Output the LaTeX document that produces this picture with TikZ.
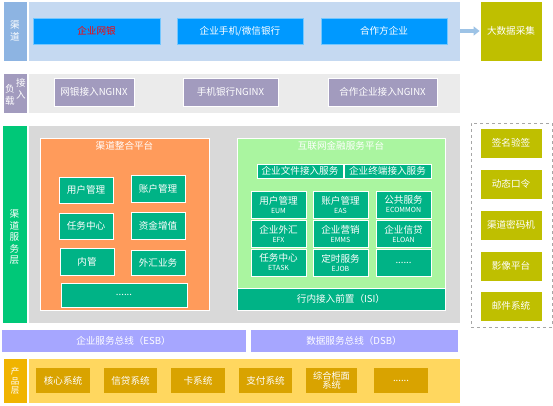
\documentclass[tikz,border=0pt]{standalone}
\usepackage{fontspec}
\setmainfont{Noto Sans CJK SC}
\usetikzlibrary{arrows.meta}
\definecolor{qdlabel}{HTML}{8DB4E2}
\definecolor{qdband}{HTML}{C5D9F1}
\definecolor{qdblue}{HTML}{0099FF}
\definecolor{olive}{HTML}{BFBF00}
\definecolor{lilac}{HTML}{A29BBE}
\definecolor{lbgray}{HTML}{EBEBEB}
\definecolor{fwgreen}{HTML}{00C878}
\definecolor{fwgray}{HTML}{D9D9D9}
\definecolor{qorange}{HTML}{FF9B5B}
\definecolor{teal}{HTML}{00B386}
\definecolor{lgreen}{HTML}{AAF5A0}
\definecolor{busblue}{HTML}{A6A6FF}
\definecolor{cplabel}{HTML}{F0B400}
\definecolor{cpband}{HTML}{FFD75F}
\definecolor{cpbox}{HTML}{D9A300}
\definecolor{arrowblue}{HTML}{9DC3E6}
\tikzset{
  blk/.style={inner sep=0pt, text=white, align=center,
    font=\fontsize{9.6}{10.5}\selectfont},
  band/.style={blk, draw=white, line width=0.8pt},
  cell/.style={blk, draw=white, line width=0.8pt, fill=teal},
  lbl/.style={blk, font=\fontsize{9.6}{11.5}\selectfont}
}
\newcommand{\sm}[1]{\\[-1.5pt]{\fontsize{7}{7.5}\selectfont #1}}
\begin{document}
\begin{tikzpicture}[x=1pt, y=-1pt]
  \useasboundingbox (0,0) rectangle (553,406);
  % channel layer
  \node [band, fill=qdlabel, minimum width=24pt, minimum height=60pt] (qdl) at (15,31) {};
  \node [lbl] (qdt) at (15,31) {渠\\道};
  \node [band, fill=qdband, minimum width=432pt, minimum height=60pt] (qdb) at (244,31) {};
  \node [blk, fill=qdblue, draw=qdblue!55, minimum width=127pt, minimum height=26pt, text=red] (wy) at (96.5,31) {企业网银};
  \node [blk, fill=qdblue, draw=qdblue!55, minimum width=126pt, minimum height=26pt] (sj) at (240,31) {企业手机/微信银行};
  \node [blk, fill=qdblue, draw=qdblue!55, minimum width=126pt, minimum height=26pt] (hz) at (384,31) {合作方企业};
  \node [band, fill=olive, minimum width=62pt, minimum height=60pt] (dsj) at (511,31) {大数据采集};
  \draw [-{Triangle[length=6pt, width=9pt]}, line width=3.5pt, arrowblue] (qdb.east) -- (dsj.west);

  % load access layer
  \node [band, fill=lilac, minimum width=24pt, minimum height=40pt] (fzl) at (15,93) {};
  \node [lbl] (fzt1) at (10,95) {负\\载};
  \node [lbl] (fzt2) at (21,89) {接\\入};
  \node [band, fill=lbgray, minimum width=432pt, minimum height=40pt] (fzb) at (244,93) {};
  \node [band, fill=lilac, minimum width=80pt, minimum height=28pt] (ng1) at (94,92) {网银接入NGINX};
  \node [band, fill=lilac, minimum width=95pt, minimum height=28pt] (ng2) at (230.5,92) {手机银行NGINX};
  \node [band, fill=lilac, minimum width=109pt, minimum height=28pt] (ng3) at (382.5,92) {合作企业接入NGINX};

  % channel service layer
  \node [band, fill=fwgreen, minimum width=25pt, minimum height=198pt] (fwl) at (14.5,224) {};
  \node [lbl] (fwt) at (14.5,237) {渠\\道\\服\\务\\层};
  \node [band, fill=fwgray, minimum width=432pt, minimum height=198pt] (fwb) at (244,224) {};
  \node [band, fill=qorange, minimum width=169pt, minimum height=172pt] (zh) at (124.5,224) {};
  \node [blk] (zht) at (124.5,146) {渠道整合平台};
  \node [cell, minimum width=54pt, minimum height=26pt] (o11) at (86,190) {用户管理};
  \node [cell, minimum width=54pt, minimum height=27pt] (o12) at (158,188.5) {账户管理};
  \node [cell, minimum width=54pt, minimum height=26pt] (o21) at (86,226) {任务中心};
  \node [cell, minimum width=54pt, minimum height=27pt] (o22) at (158,225.5) {资金增值};
  \node [cell, minimum width=54pt, minimum height=27pt] (o31) at (87,261.5) {内管};
  \node [cell, minimum width=54pt, minimum height=25pt] (o32) at (158,262.5) {外汇业务};
  \node [cell, minimum width=126pt, minimum height=24pt] (o4) at (124,295) {......};

  \node [band, fill=lgreen, minimum width=208pt, minimum height=172pt] (hl) at (341,224) {};
  \node [blk] (hlt) at (341,146) {互联网金融服务平台};
  \node [cell, minimum width=86pt, minimum height=14pt] (f1) at (300,171) {企业文件接入服务};
  \node [cell, minimum width=87pt, minimum height=14pt] (f2) at (387.5,171) {企业终端接入服务};
  \node [cell, minimum width=55pt, minimum height=27pt] (g11) at (278.5,204.5) {用户管理\sm{EUM}};
  \node [cell, minimum width=55pt, minimum height=27pt] (g12) at (340.5,204.5) {账户管理\sm{EAS}};
  \node [cell, minimum width=55pt, minimum height=27pt] (g13) at (403.5,204.5) {公共服务\sm{ECOMMON}};
  \node [cell, minimum width=55pt, minimum height=27pt] (g21) at (278.5,233.5) {企业外汇\sm{EFX}};
  \node [cell, minimum width=55pt, minimum height=27pt] (g22) at (340.5,233.5) {企业营销\sm{EMMS}};
  \node [cell, minimum width=55pt, minimum height=27pt] (g23) at (403.5,233.5) {企业信贷\sm{ELOAN}};
  \node [cell, minimum width=55pt, minimum height=27pt] (g31) at (278.5,262.5) {任务中心\sm{ETASK}};
  \node [cell, minimum width=55pt, minimum height=27pt] (g32) at (340.5,262.5) {定时服务\sm{EJOB}};
  \node [cell, minimum width=55pt, minimum height=27pt] (g33) at (403.5,262.5) {......};
  \node [cell, minimum width=208pt, minimum height=22pt] (isi) at (341,299) {行内接入前置（ISI）};

  % shared services
  \node [draw=gray!70, dashed, line width=0.8pt, minimum width=81pt, minimum height=204pt] (ggl) at (511.5,225) {};
  \node [band, fill=olive, minimum width=62pt, minimum height=30pt] (s1) at (511,143) {签名验签};
  \node [band, fill=olive, minimum width=62pt, minimum height=30pt] (s2) at (511,184) {动态口令};
  \node [band, fill=olive, minimum width=62pt, minimum height=30pt] (s3) at (511,225) {渠道密码机};
  \node [band, fill=olive, minimum width=62pt, minimum height=30pt] (s4) at (511,266) {影像平台};
  \node [band, fill=olive, minimum width=62pt, minimum height=30pt] (s5) at (511,306) {邮件系统};

  % buses
  \node [band, fill=busblue, minimum width=245pt, minimum height=23pt] (esb) at (123.5,340.5) {企业服务总线（ESB）};
  \node [band, fill=busblue, minimum width=208pt, minimum height=23pt] (dsb) at (354,340.5) {数据服务总线（DSB）};

  % product layer
  \node [band, fill=cplabel, minimum width=24pt, minimum height=45pt] (cpl) at (15,380.5) {};
  \node [lbl, font=\fontsize{8.5}{9.5}\selectfont] (cpt) at (15,381) {产\\品\\层};
  \node [band, fill=cpband, minimum width=432pt, minimum height=45pt] (cpb) at (244,380.5) {};
  \node [blk, fill=cpbox, minimum width=54pt, minimum height=25pt] (c1) at (63,380.5) {核心系统};
  \node [blk, fill=cpbox, minimum width=53pt, minimum height=25pt] (c2) at (130.5,380.5) {信贷系统};
  \node [blk, fill=cpbox, minimum width=54pt, minimum height=25pt] (c3) at (198,380.5) {卡系统};
  \node [blk, fill=cpbox, minimum width=53pt, minimum height=25pt] (c4) at (265.5,380.5) {支付系统};
  \node [blk, fill=cpbox, minimum width=51pt, minimum height=25pt, font=\fontsize{9.2}{9.5}\selectfont] (c5) at (331.5,380.5) {综合柜面\\系统};
  \node [blk, fill=cpbox, minimum width=54pt, minimum height=25pt] (c6) at (401,380.5) {......};
\end{tikzpicture}
\end{document}
